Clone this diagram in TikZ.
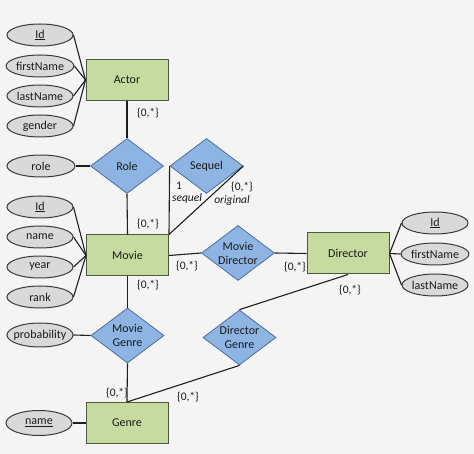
\documentclass[tikz,border=0pt]{standalone}
\usepackage{fontspec}
\setmainfont{Carlito}
\usetikzlibrary{shapes.geometric}
\definecolor{bg}{HTML}{F4F4F4}
\definecolor{entfill}{HTML}{C6DBA0}
\definecolor{entdraw}{HTML}{4D5A3A}
\definecolor{relfill}{HTML}{8EB4E3}
\definecolor{reldraw}{HTML}{4A6E9C}
\definecolor{attfill}{HTML}{D9D9D9}
\definecolor{attdraw}{HTML}{3A3A3A}
\definecolor{txt}{HTML}{1A1A1A}
\definecolor{ln}{HTML}{1E1E1E}
\begin{document}
\begin{tikzpicture}[x=1pt,y=-1pt,
  every node/.style={text=txt,font=\fontsize{12}{14}\selectfont},
  entity/.style={rectangle,draw=entdraw,fill=entfill,line width=1pt,minimum width=82pt,minimum height=41pt},
  rel/.style={diamond,draw=reldraw,fill=relfill,line width=0.8pt,minimum width=73pt,minimum height=55pt,inner sep=-5pt,align=center},
  attr/.style={ellipse,draw=attdraw,fill=attfill,line width=1pt,minimum width=66pt,minimum height=22pt,inner sep=0pt},
  conn/.style={draw=ln,line width=1.1pt},
  card/.style={inner sep=0pt,font=\fontsize{11.5}{13}\selectfont},
  rolelbl/.style={inner sep=0pt,font=\fontsize{11.5}{13}\selectfont\itshape}]
\fill[bg] (0,0) rectangle (474,454);
\useasboundingbox (0,0) rectangle (474,454);
% cardinality labels drawn first (some sit behind shapes)
\node[card] (c1) at (148,113) {\{0,*\}};
\node[card] (c2) at (148,224) {\{0,*\}};
\node[card] (c3) at (179,186) {1};
\node[rolelbl] (c4) at (187,198) {sequel};
\node[card] (c5) at (242,187) {\{0,*\}};
\node[rolelbl] (c6) at (232,200) {original};
\node[card] (c7) at (187,266) {\{0,*\}};
\node[card] (c8) at (295,267) {\{0,*\}};
\node[card] (c9) at (148,285) {\{0,*\}};
\node[card] (c10) at (117,393) {\{0,*\}};
\node[card] (c11) at (188,397) {\{0,*\}};
\node[card] (c12) at (350,290) {\{0,*\}};
% entities
\node[entity] (actor) at (127,80) {Actor};
\node[entity] (movie) at (127.5,255.5) {Movie};
\node[entity] (genre) at (127,423) {Genre};
\node[entity] (director) at (348,253.5) {Director};
% relationships
\node[rel] (role) at (127,166) {Role};
\node[rel] (sequel) at (206.5,166) {Sequel};
\node[rel] (md) at (238,253) {Movie\\Director};
\node[rel] (dg) at (239.5,337.5) {Director\\Genre};
\node[rel] (mg) at (127.5,335.5) {Movie\\Genre};
% attributes
\node[attr] (aid) at (40,35) {\underline{Id}};
\node[attr] (afn) at (40,66) {firstName};
\node[attr] (aln) at (40,96) {lastName};
\node[attr] (agd) at (40,126) {gender};
\node[attr,minimum width=68pt] (rrole) at (41,166) {role};
\node[attr] (mid) at (40,207) {\underline{Id}};
\node[attr] (mname) at (40,237) {name};
\node[attr] (myear) at (40,267) {year};
\node[attr] (mrank) at (40,297) {rank};
\node[attr,minimum height=24pt,inner xsep=-3.5pt] (mprob) at (40,335) {probability};
\node[attr,minimum height=25pt] (gname) at (39,423) {\underline{name}};
\node[attr] (did) at (435,223) {\underline{Id}};
\node[attr] (dfn) at (435,254) {firstName};
\node[attr] (dln) at (435,285) {lastName};
% connectors
\path[conn] (aid.east) -- (actor.west);
\path[conn] (afn.east) -- (actor.west);
\path[conn] (aln.east) -- (actor.west);
\path[conn] (agd.east) -- (actor.west);
\path[conn] (actor.south) -- (role.north);
\path[conn] (role.south) -- (movie.north);
\path[conn] (rrole.east) -- (role.west);
\path[conn] (mid.east) -- (movie.west);
\path[conn] (mname.east) -- (movie.west);
\path[conn] (myear.east) -- (movie.west);
\path[conn] (mrank.east) -- (movie.west);
\path[conn] (movie.north east) -- (sequel.west);
\path[conn] (movie.north east) -- (sequel.east);
\path[conn] (movie.east) -- (md.west);
\path[conn] (md.east) -- (director.west);
\path[conn] (did.west) -- (director.east);
\path[conn] (dfn.west) -- (director.east);
\path[conn] (dln.west) -- (director.east);
\path[conn] (movie.south) -- (mg.north);
\path[conn] (mprob.east) -- (mg.west);
\path[conn] (mg.south) -- (genre.north);
\path[conn] (director.south) -- (dg.north);
\path[conn] (dg.south) -- (genre.north);
\path[conn] (gname.east) -- (genre.west);
\end{tikzpicture}
\end{document}
